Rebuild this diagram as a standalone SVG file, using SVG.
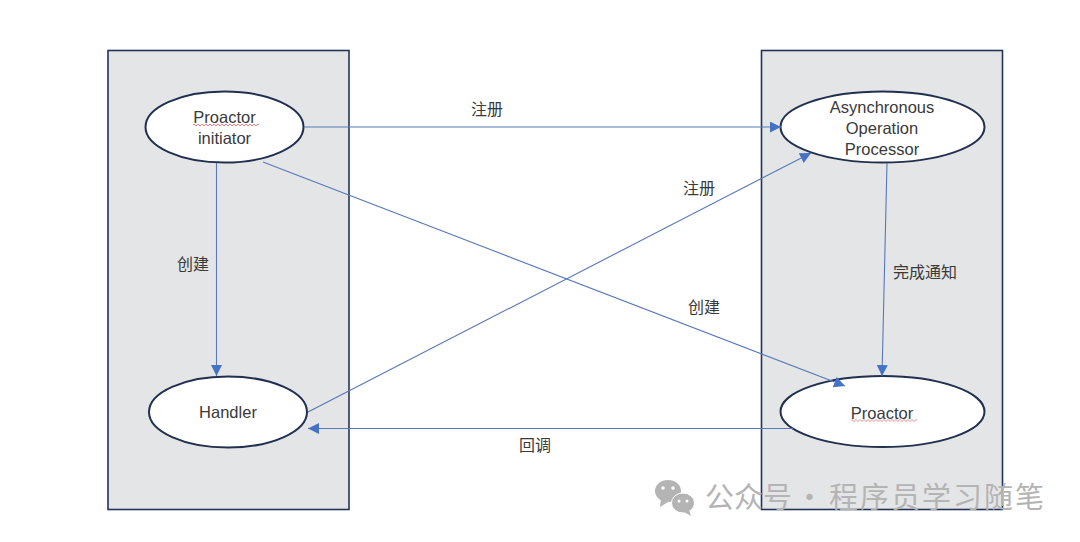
<svg xmlns="http://www.w3.org/2000/svg" width="1080" height="542" viewBox="0 0 1080 542">
<defs>
<marker id="a" markerUnits="userSpaceOnUse" markerWidth="12" markerHeight="12" refX="11" refY="5.5" orient="auto"><path d="M0 0L11 5.500L0 11z" fill="#4472c4"/></marker>
<path id="sq" d="M0 0q1 -2 2 0t2 0t2 0t2 0t2 0t2 0t2 0t2 0t2 0t2 0t2 0t2 0t2 0t2 0t2 0t2 0t2 0t2 0t2 0t2 0t2 0t2 0t2 0t2 0t2 0t2 0t2 0t2 0t2 0t2 0t2 0t2 0t2 0" fill="none" stroke="#d9534f" stroke-width=".7"/>
</defs>
<style>
text{font-family:"Noto Sans CJK SC","Liberation Sans",sans-serif;font-size:16px;fill:#3a3a3a;text-anchor:middle}
text.n{font-family:"Liberation Sans","Noto Sans CJK SC",sans-serif;font-size:16.5px}
.box{fill:#e4e5e6;stroke:#223559;stroke-width:1.6}
.el{fill:#fff;stroke:#22304f;stroke-width:2}
.c{fill:none;stroke:#5878b8;stroke-width:1.1;marker-end:url(#a)}
.wm{font-size:29px;fill:#b4b4b4;text-anchor:start}
</style>
<rect width="1080" height="542" fill="#fff"/>
<g id="left-panel"><rect class="box" x="108" y="50.500" width="241" height="459"/></g>
<g id="right-panel"><rect class="box" x="761.500" y="50.500" width="241" height="459"/></g>
<g id="proactor-initiator"><ellipse class="el" cx="224.500" cy="127" rx="79" ry="35.500"/><text class="n" x="224.500" y="123">Proactor</text><text class="n" x="224.500" y="144">initiator</text><use href="#sq" x="193" y="125"/></g>
<g id="handler"><ellipse class="el" cx="228" cy="412" rx="79" ry="35.500"/><text class="n" x="228" y="418">Handler</text></g>
<g id="async-processor"><ellipse class="el" cx="882.500" cy="127" rx="102" ry="35.500"/><text class="n" x="882" y="113">Asynchronous</text><text class="n" x="882" y="134">Operation</text><text class="n" x="882" y="155">Processor</text></g>
<g id="proactor"><ellipse class="el" cx="882.500" cy="411.500" rx="102" ry="35.500"/><text class="n" x="882" y="419">Proactor</text><use href="#sq" x="851" y="420.500"/></g>
<g id="connectors">
<path class="c" d="M304 127H781"/>
<path class="c" d="M216.500 163V376"/>
<path class="c" d="M263 162L845 386"/>
<path class="c" d="M308 412L811 153"/>
<path class="c" d="M887 163L882 376"/>
<path class="c" d="M793 428.500H308"/>
</g>
<g id="labels">
<text x="487" y="115">注册</text><text x="699" y="194">注册</text><text x="193" y="270">创建</text><text x="704" y="313">创建</text><text x="925" y="278">完成通知</text><text x="535" y="451">回调</text>
</g>
<g id="watermark">
<ellipse cx="668" cy="491" rx="13" ry="11" fill="#b4b4b4"/><path d="M661 499l-1 8 8-5z" fill="#b4b4b4"/>
<ellipse cx="683" cy="503" rx="11.500" ry="10" fill="#b4b4b4" stroke="#fff"/><path d="M689 510l2 6-7-4z" fill="#b4b4b4"/>
<g fill="#fff"><circle cx="663" cy="488" r="1.800"/><circle cx="673" cy="488" r="1.800"/><circle cx="679" cy="501" r="1.500"/><circle cx="687" cy="501" r="1.500"/></g>
<text class="wm" y="508"><tspan x="705">公众号</tspan><tspan x="795">·</tspan><tspan x="829" letter-spacing="2">程序员学习随笔</tspan></text>
</g>
</svg>
